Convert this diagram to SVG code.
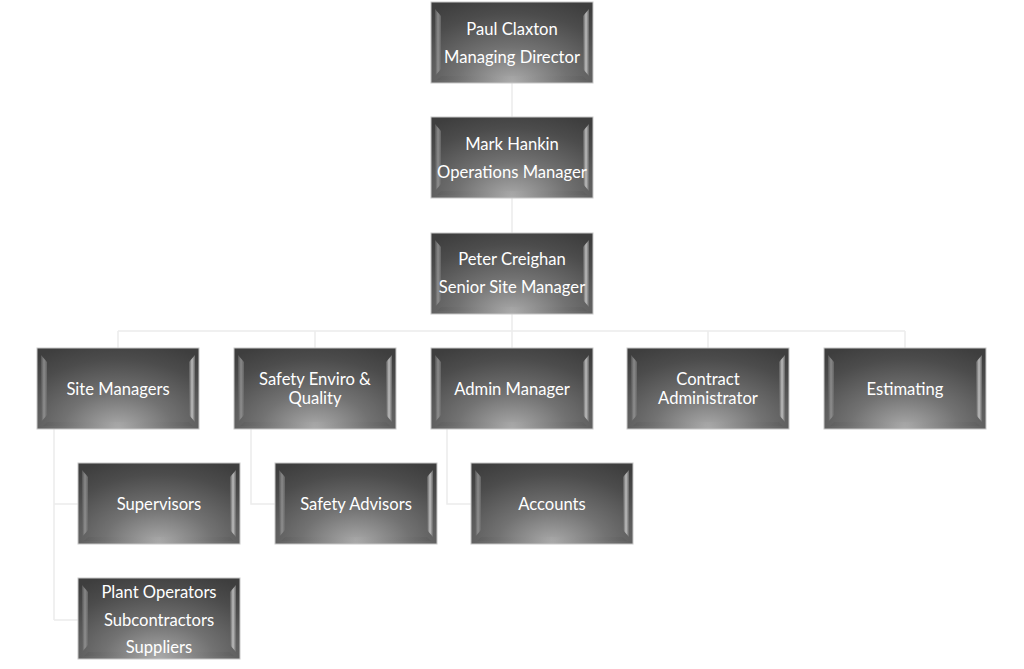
<svg xmlns="http://www.w3.org/2000/svg" width="1024" height="669" viewBox="0 0 1024 669">
<defs>
<radialGradient id="fill" cx="50%" cy="100%" r="85%" fx="50%" fy="100%" gradientTransform="translate(0.5 1) scale(1 1.3) translate(-0.5 -1)">
<stop offset="0" stop-color="#ababab"/>
<stop offset="0.4" stop-color="#727272"/>
<stop offset="0.78" stop-color="#4c4c4c"/>
<stop offset="1" stop-color="#3e3e3e"/>
</radialGradient>
<linearGradient id="lbev" x1="0" y1="0" x2="1" y2="0">
<stop offset="0" stop-color="#5a5a5a"/>
<stop offset="0.5" stop-color="#9a9a9a"/>
<stop offset="1" stop-color="#6a6a6a"/>
</linearGradient>
<linearGradient id="rbev" x1="0" y1="0" x2="1" y2="0">
<stop offset="0" stop-color="#5a5a5a"/>
<stop offset="0.5" stop-color="#c8c8c8"/>
<stop offset="1" stop-color="#6a6a6a"/>
</linearGradient>
<linearGradient id="bbev" x1="0" y1="0" x2="1" y2="0">
<stop offset="0" stop-color="#555"/>
<stop offset="0.5" stop-color="#aaa"/>
<stop offset="1" stop-color="#555"/>
</linearGradient>
<g id="box">
<rect x="0" y="0" width="162" height="81" fill="url(#fill)" stroke="#c8c8c8" stroke-width="1"/>
<polygon points="4,7 10,14 10,67 4,74" fill="url(#lbev)" opacity="0.8"/>
<polygon points="158,7 152,14 152,67 158,74" fill="url(#rbev)" opacity="0.9"/>
<polygon points="10,74 152,74 156,78 6,78" fill="url(#bbev)" opacity="0.35"/>
</g>
</defs>
<style>
.c{fill:none;stroke:#ececec;stroke-width:1.5}
.t{font-family:Lato,"Open Sans","Liberation Sans",sans-serif;font-size:16.6px;fill:#ffffff;text-anchor:middle}
</style>
<rect width="1024" height="669" fill="#ffffff"/>
<g id="connectors">
<path class="c" d="M512 83V117M512 198V233M512 314V348"/>
<path class="c" d="M118 331H905M118 331V348M315 331V348M708 331V348M905 331V348"/>
<path class="c" d="M54 429V620M54 504H78M54 620H78"/>
<path class="c" d="M251 429V504H275"/>
<path class="c" d="M447 429V504H471"/>
</g>
<g id="paul"><use href="#box" x="431" y="2"/><text class="t" x="512" y="35">Paul Claxton</text><text class="t" x="512" y="63">Managing Director</text></g>
<g id="mark"><use href="#box" x="431" y="117"/><text class="t" x="512" y="150">Mark Hankin</text><text class="t" x="512" y="178">Operations Manager</text></g>
<g id="peter"><use href="#box" x="431" y="233"/><text class="t" x="512" y="265">Peter Creighan</text><text class="t" x="512" y="293">Senior Site Manager</text></g>
<g id="site"><use href="#box" x="37" y="348"/><text class="t" x="118" y="395">Site Managers</text></g>
<g id="safety"><use href="#box" x="234" y="348"/><text class="t" x="315" y="385">Safety Enviro &amp;</text><text class="t" x="315" y="404">Quality</text></g>
<g id="admin"><use href="#box" x="431" y="348"/><text class="t" x="512" y="395">Admin Manager</text></g>
<g id="contract"><use href="#box" x="627" y="348"/><text class="t" x="708" y="385">Contract</text><text class="t" x="708" y="404">Administrator</text></g>
<g id="estimating"><use href="#box" x="824" y="348"/><text class="t" x="905" y="395">Estimating</text></g>
<g id="supervisors"><use href="#box" x="78" y="463"/><text class="t" x="159" y="510">Supervisors</text></g>
<g id="advisors"><use href="#box" x="275" y="463"/><text class="t" x="356" y="510">Safety Advisors</text></g>
<g id="accounts"><use href="#box" x="471" y="463"/><text class="t" x="552" y="510">Accounts</text></g>
<g id="plant"><use href="#box" x="78" y="578"/><text class="t" x="159" y="598">Plant Operators</text><text class="t" x="159" y="626">Subcontractors</text><text class="t" x="159" y="653">Suppliers</text></g>
</svg>
